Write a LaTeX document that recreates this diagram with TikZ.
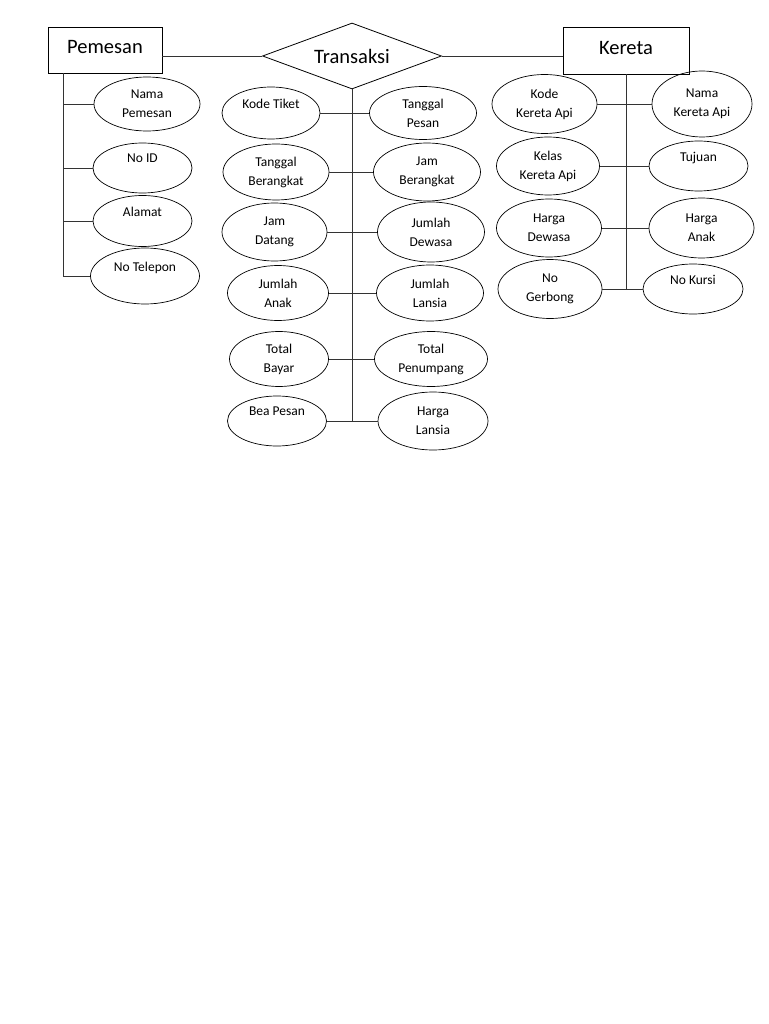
\documentclass[tikz,border=0pt]{standalone}
\usepackage{fontspec}
\setmainfont{Carlito}
\usetikzlibrary{shapes.geometric}
\tikzset{
	entitas/.style={draw, rectangle, line width=0.8pt, inner sep=0pt, font=\fontsize{20.5}{24}\selectfont},
	relasi/.style={draw, diamond, aspect=3, line width=0.8pt, inner sep=0pt, minimum width=179pt, minimum height=66pt, font=\fontsize{20.5}{24}\selectfont},
	atribut/.style={draw, ellipse, line width=0.7pt, inner sep=0pt, align=center, minimum width=104pt, minimum height=55pt, font=\fontsize{13.5}{19}\selectfont},
	garis/.style={line width=0.7pt, black!80}
}

\begin{document}
\begin{tikzpicture}[x=1pt, y=-1pt]
	\useasboundingbox (0,0) rectangle (768,1024);

	% entitas dan relasi
	\node (pemesan) at (105,50) [entitas, minimum width=114pt, minimum height=46pt] {\raisebox{6pt}{Pemesan}};
	\node (transaksi) at (352,56) [relasi] {Transaksi};
	\node (kereta) at (626,50.5) [entitas, minimum width=126pt, minimum height=47pt] {\raisebox{6pt}{Kereta}};
	\draw[garis] (transaksi.west -| pemesan.east) -- (transaksi.west);
	\draw[garis] (transaksi.east) -- (transaksi.east -| kereta.west);

	% atribut pemesan
	\coordinate (pemtrunk) at (63,73);
	\node (namapemesan) at (147,104) [atribut, minimum width=106pt, minimum height=54pt] {Nama\\Pemesan};
	\node (noid) at (142.5,168) [atribut, minimum width=99pt, minimum height=50pt] {No ID\\~};
	\node (alamat) at (142.5,221) [atribut, minimum width=99pt, minimum height=51pt] {Alamat\\~};
	\node (notelepon) at (145,276) [atribut, minimum width=109pt, minimum height=56pt] {No Telepon\\~};
	\draw[garis] (pemtrunk) |- (notelepon.west);
	\draw[garis] (namapemesan.west -| pemtrunk) -- (namapemesan.west);
	\draw[garis] (noid.west -| pemtrunk) -- (noid.west);
	\draw[garis] (alamat.west -| pemtrunk) -- (alamat.west);

	% atribut transaksi
	\node (kodetiket) at (271,113) [atribut, minimum width=98pt, minimum height=52pt] {Kode Tiket\\~};
	\node (tglpesan) at (423,113) [atribut, minimum width=107pt, minimum height=53pt] {Tanggal\\Pesan};
	\node (tglberangkat) at (276,172) [atribut, minimum width=106pt, minimum height=56pt] {Tanggal\\Berangkat};
	\node (jamberangkat) at (427,172) [atribut, minimum width=107pt, minimum height=58pt] {Jam\\Berangkat};
	\node (jamdatang) at (274.5,232) [atribut, minimum width=105pt, minimum height=58pt] {Jam\\Datang};
	\node (jmldewasa) at (431,232) [atribut, minimum width=107pt, minimum height=60pt] {Jumlah\\Dewasa};
	\node (jmlanak) at (278,293) [atribut, minimum width=101pt, minimum height=55pt] {Jumlah\\Anak};
	\node (jmllansia) at (430,293) [atribut, minimum width=107pt, minimum height=56pt] {Jumlah\\Lansia};
	\node (totalbayar) at (279,359) [atribut, minimum width=99pt, minimum height=55pt] {Total\\Bayar};
	\node (totalpenumpang) at (431,359) [atribut, minimum width=113pt, minimum height=55pt] {Total\\Penumpang};
	\node (beapesan) at (277,421) [atribut, minimum width=99pt, minimum height=50pt] {Bea Pesan\\~};
	\node (hargalansia) at (433,421) [atribut, minimum width=110pt, minimum height=58pt] {Harga\\Lansia};
	\draw[garis] (transaksi.south) -- (transaksi.south |- beapesan.east);
	\draw[garis] (kodetiket.east) -- (tglpesan.west);
	\draw[garis] (tglberangkat.east) -- (jamberangkat.west);
	\draw[garis] (jamdatang.east) -- (jmldewasa.west);
	\draw[garis] (jmlanak.east) -- (jmllansia.west);
	\draw[garis] (totalbayar.east) -- (totalpenumpang.west);
	\draw[garis] (beapesan.east) -- (hargalansia.west);

	% atribut kereta
	\node (kodeka) at (544.5,104) [atribut, minimum width=105pt, minimum height=59pt] {Kode\\Kereta Api};
	\node (namaka) at (702,104) [atribut, minimum width=100pt, minimum height=66pt] {Nama\\Kereta Api};
	\node (kelaska) at (548,166) [atribut, minimum width=103pt, minimum height=58pt] {Kelas\\Kereta Api};
	\node (tujuan) at (698.5,166) [atribut, minimum width=99pt, minimum height=50pt] {Tujuan\\~};
	\node (hargadewasa) at (549,228) [atribut, minimum width=105pt, minimum height=58pt] {Harga\\Dewasa};
	\node (hargaanak) at (701.5,228) [atribut, minimum width=105pt, minimum height=60pt] {Harga\\Anak};
	\node (nogerbong) at (550,289) [atribut, minimum width=104pt, minimum height=59pt] {No\\Gerbong};
	\node (nokursi) at (693,289) [atribut, minimum width=100pt, minimum height=50pt] {No Kursi\\~};
	\draw[garis] (kereta.south) -- (kereta.south |- nogerbong.east);
	\draw[garis] (kodeka.east) -- (namaka.west);
	\draw[garis] (kelaska.east) -- (tujuan.west);
	\draw[garis] (hargadewasa.east) -- (hargaanak.west);
	\draw[garis] (nogerbong.east) -- (nokursi.west);
\end{tikzpicture}
\end{document}
